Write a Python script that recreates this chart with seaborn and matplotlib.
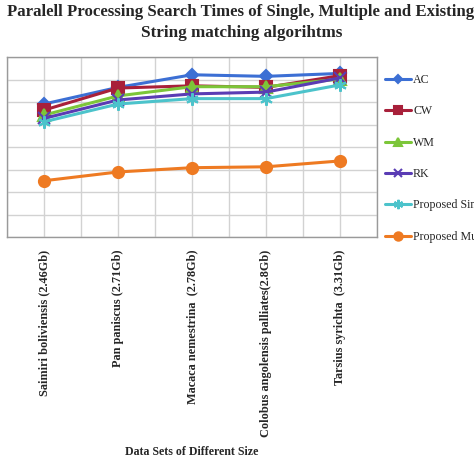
import matplotlib
matplotlib.use("Agg")
import matplotlib.pyplot as plt
from matplotlib.ticker import MultipleLocator, NullFormatter
import seaborn as sns
import pandas as pd

categories = ["Saimiri boliviensis (2.46Gb)", "Pan paniscus (2.71Gb)",
              "Macaca nemestrina  (2.78Gb)", "Colobus angolensis palliates(2.8Gb)",
              "Tarsius syrichta  (3.31Gb)"]
series_names = ["AC", "CW", "WM", "RK", "Proposed Single", "Proposed Multiple"]
ac = [5.91, 6.65, 7.21, 7.14, 7.27]
cw = [5.64, 6.62, 6.72, 6.65, 7.17]
wm = [5.42, 6.27, 6.68, 6.68, 7.02]
rk = [5.27, 6.09, 6.36, 6.44, 7.07]
prop_single = [5.12, 5.91, 6.15, 6.15, 6.76]
prop_multi = [2.50, 2.89, 3.08, 3.12, 3.38]
values = [ac, cw, wm, rk, prop_single, prop_multi]

colors = ["#3C6FD4", "#A8203A", "#7CC639", "#5A3CB4", "#4CC3CB", "#EE7A22"]
markers = ["D", "s", "^", "x", (6, 2, 0), "o"]
msizes = [6, 8, 8, 8, 9, 8]

rows = []
for name, vals in zip(series_names, values):
    for c, v in zip(categories, vals):
        rows.append({"Dataset": c, "Time": v, "Algorithm": name})
df = pd.DataFrame(rows)

sns.set_style("white")
plt.rcParams["font.family"] = ["Liberation Serif", "DejaVu Serif"]

fig = plt.figure(figsize=(4.74, 4.74), dpi=100)
ax = fig.add_axes([7 / 474, 0.5, 370 / 474, 180 / 474])

for name, col, mk, ms in zip(series_names, colors, markers, msizes):
    sub = df[df["Algorithm"] == name]
    sns.lineplot(data=sub, x="Dataset", y="Time", ax=ax, color=col,
                 marker=mk, markersize=ms, markeredgecolor=col,
                 markeredgewidth=1.5, linewidth=2.2, label=name, sort=False)

ax.set_xlim(-0.5, 4.5)
ax.set_ylim(0, 8)
ax.xaxis.set_minor_locator(MultipleLocator(0.5))
ax.yaxis.set_major_locator(MultipleLocator(1))
ax.set_xticks(range(len(categories)))
ax.set_xticklabels(categories, rotation=90, fontweight="bold", fontsize=8.8,
                   va="top", ha="center")
ax.yaxis.set_major_formatter(NullFormatter())
ax.grid(True, which="both", color="#d2d2d2", linewidth=1)
ax.tick_params(axis="x", which="both", length=0, pad=9)
ax.tick_params(axis="y", which="major", length=6, direction="out", color="#999999")
ax.set_axisbelow(True)
for s in ax.spines.values():
    s.set_color("#9a9a9a")
    s.set_linewidth(1)
ax.set_xlabel("")
ax.set_ylabel("")

leg = ax.legend(loc="upper left", bbox_to_anchor=(385 / 474, 1 - 74 / 474),
                bbox_transform=fig.transFigure, frameon=False, fontsize=8.6,
                labelspacing=1.62, handlelength=2.15, handletextpad=0.2,
                markerscale=0.75, borderaxespad=0, borderpad=0)

fig.text(192 / 474, 1 - 452 / 474, "Data Sets of Different Size",
         ha="center", va="center", fontweight="bold", fontsize=8.6)
fig.text(7 / 474, 1 - 12 / 474,
         "Paralell Processing Search Times of Single, Multiple and Existing",
         ha="left", va="center", fontweight="bold", fontsize=12.1)
fig.text(242 / 474, 1 - 33 / 474, "String matching algorihtms",
         ha="center", va="center", fontweight="bold", fontsize=12.3)

fig.savefig("out.png", dpi=100)
